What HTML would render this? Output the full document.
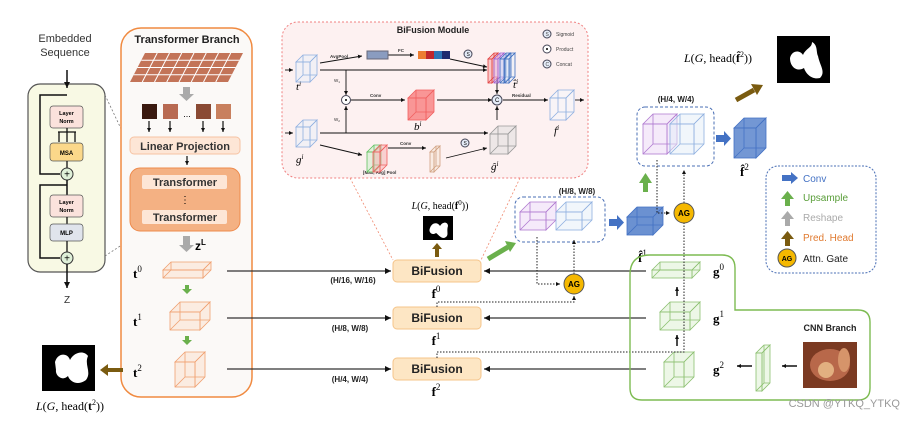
<!DOCTYPE html>
<html><head><meta charset="utf-8"><style>
html,body{margin:0;padding:0;background:#fff}
svg{display:block;font-family:"Liberation Sans",sans-serif}
.b{font-weight:bold}
.s{font-family:"Liberation Serif",serif}
</style></head><body>
<svg id="s" width="916" height="421" viewBox="0 0 916 421" xmlns="http://www.w3.org/2000/svg">
<defs>
<marker id="ah" markerWidth="8" markerHeight="8" refX="6" refY="3" orient="auto" markerUnits="userSpaceOnUse"><path d="M0,0L6,3L0,6z" fill="#111"/></marker>
<marker id="ahs" markerWidth="6" markerHeight="6" refX="4" refY="2" orient="auto" markerUnits="userSpaceOnUse"><path d="M0,0L4,2L0,4z" fill="#111"/></marker>
</defs>

<text x="65" y="42" font-size="11" text-anchor="middle" fill="#333">Embedded</text>
<text x="65" y="56" font-size="11" text-anchor="middle" fill="#333">Sequence</text>
<rect x="28" y="84" width="77" height="188" rx="12" fill="#f8f9e4" stroke="#555" stroke-width="1.2"/>
<path d="M67,70V88" stroke="#111" stroke-width="1.5" marker-end="url(#ah)"/>
<rect x="50" y="106" width="33" height="22" rx="3" fill="#fbe2dc" stroke="#555" stroke-width=".7"/>
<text x="66.5" y="115" font-size="5.5" text-anchor="middle" class="b">Layer</text><text x="66.5" y="123" font-size="5.5" text-anchor="middle" class="b">Norm</text>
<path d="M59,132V142M67,128V142M75,132V142M58,132H76" stroke="#111" stroke-width="1.3"/>
<rect x="50" y="143" width="33" height="18" rx="3" fill="#fbd88a" stroke="#555" stroke-width=".7"/>
<text x="66.5" y="155" font-size="6" text-anchor="middle" class="b">MSA</text>
<path d="M67,161V168" stroke="#111" stroke-width="1.3"/>
<circle cx="67" cy="174" r="6" fill="#dff0d8" stroke="#333"/><text x="67" y="177.5" font-size="10" text-anchor="middle">+</text>
<path d="M67,95H40V174H60" fill="none" stroke="#111" stroke-width="1.5"/>
<path d="M67,180V195M67,185H40V258H60" fill="none" stroke="#111" stroke-width="1.5"/>
<rect x="50" y="195" width="33" height="22" rx="3" fill="#fbe2dc" stroke="#555" stroke-width=".7"/>
<text x="66.5" y="204" font-size="5.5" text-anchor="middle" class="b">Layer</text><text x="66.5" y="212" font-size="5.5" text-anchor="middle" class="b">Norm</text>
<path d="M67,217V224" stroke="#111" stroke-width="1.3"/>
<rect x="50" y="224" width="33" height="17" rx="3" fill="#e0e4ec" stroke="#555" stroke-width=".7"/>
<text x="66.5" y="235" font-size="6" text-anchor="middle" class="b">MLP</text>
<path d="M67,241V252" stroke="#111" stroke-width="1.3"/>
<circle cx="67" cy="258" r="6" fill="#dff0d8" stroke="#333"/><text x="67" y="261.5" font-size="10" text-anchor="middle">+</text>
<path d="M67,264V288" stroke="#111" stroke-width="1.5" marker-end="url(#ah)"/>
<text x="67" y="303" font-size="10" text-anchor="middle" fill="#333">Z</text>
<path d="M105,95L143,175M105,256L143,231" stroke="#777" stroke-width=".8" stroke-dasharray="2,2"/>

<rect x="121" y="28" width="131" height="369" rx="20" fill="#fbf9f7" stroke="#f08a40" stroke-width="1.5"/>
<text x="187" y="43" font-size="11" text-anchor="middle" class="b" fill="#222">Transformer Branch</text>
<polygon points="145,53 243,53 228,82 130,82" fill="#c37458"/>
<g id="grid" stroke="#fff" stroke-width="1"></g>
<rect x="183" y="87" width="7" height="7" fill="#aaa"/><polygon points="179,94 194,94 186.5,101" fill="#aaa"/>
<rect x="142" y="104" width="15" height="15" fill="#3a1a10"/><rect x="163" y="104" width="15" height="15" fill="#b86a52"/>
<text x="187" y="117" font-size="9" text-anchor="middle">...</text>
<rect x="196" y="104" width="15" height="15" fill="#8a4a34"/><rect x="216" y="104" width="15" height="15" fill="#c8805e"/>
<g stroke="#111" stroke-width="1.2" marker-end="url(#ahs)"><path d="M149,121V132"/><path d="M170,121V132"/><path d="M203,121V132"/><path d="M223,121V132"/><path d="M187,156V165"/></g>
<rect x="130" y="137" width="110" height="17" rx="4" fill="#fde6d6" stroke="#f6c3a3"/>
<text x="185" y="150" font-size="11" text-anchor="middle" class="b" fill="#333">Linear Projection</text>
<rect x="130" y="168" width="110" height="63" rx="10" fill="#f4b183" stroke="#ee8a4b"/>
<rect x="142" y="175" width="85" height="14" rx="2" fill="#fde6d6"/>
<text x="185" y="186" font-size="11" text-anchor="middle" class="b" fill="#333">Transformer</text>
<text x="185" y="203" font-size="10" text-anchor="middle">⋮</text>
<rect x="142" y="210" width="85" height="14" rx="2" fill="#fde6d6"/>
<text x="185" y="221" font-size="11" text-anchor="middle" class="b" fill="#333">Transformer</text>
<rect x="183" y="236" width="7" height="9" fill="#aaa"/><polygon points="179,245 194,245 186.5,252" fill="#aaa"/>
<text x="195" y="250" font-size="12" class="b">z<tspan font-size="8" dy="-5">L</tspan></text>
<text x="133" y="278" font-size="13" class="b s">t<tspan font-size="9" dy="-6" font-weight="normal">0</tspan></text>
<text x="133" y="326" font-size="13" class="b s">t<tspan font-size="9" dy="-6" font-weight="normal">1</tspan></text>
<text x="133" y="377" font-size="13" class="b s">t<tspan font-size="9" dy="-6" font-weight="normal">2</tspan></text>
<g fill="#6ab04c"><rect x="185" y="285" width="4" height="4"/><polygon points="182,289 192,289 187,294"/><rect x="185" y="336" width="4" height="4"/><polygon points="182,340 192,340 187,345"/></g>

<rect x="42" y="345" width="53" height="46" fill="#000"/>
<path d="M55,362C58,352 68,353 70,360C74,352 84,350 88,356C84,365 92,372 86,380C78,386 70,382 68,376C62,382 55,375 56,370Z" fill="#fff"/>
<text x="70" y="410" font-size="12" text-anchor="middle" class="s"><tspan font-style="italic">L</tspan>(<tspan font-style="italic">G</tspan>, head(<tspan font-weight="bold">t</tspan><tspan font-size="8" dy="-5">2</tspan><tspan dy="5">))</tspan></text>
<rect x="108" y="368" width="15" height="4" fill="#7a5b10"/><polygon points="108,364 108,376 100,370" fill="#7a5b10"/>

<g stroke="#333" stroke-width="1.3" marker-end="url(#ah)">
<path d="M227,271H391"/><path d="M227,318H391"/><path d="M227,369H391"/>
<path d="M646,271H484"/><path d="M646,318H484"/><path d="M646,369H484"/>
</g>
<g font-size="8" class="b" text-anchor="middle" fill="#222">
<text x="353" y="283">(H/16, W/16)</text><text x="350" y="331">(H/8, W/8)</text><text x="350" y="382">(H/4, W/4)</text>
<text x="577" y="194">(H/8, W/8)</text><text x="676" y="102">(H/4, W/4)</text>
</g>

<g fill="#fde6c4" stroke="#f5c48a">
<rect x="393" y="260" width="88" height="22" rx="4"/><rect x="393" y="307" width="88" height="22" rx="4"/><rect x="393" y="358" width="88" height="22" rx="4"/>
</g>
<g font-size="12" class="b" text-anchor="middle" fill="#222">
<text x="437" y="275">BiFusion</text><text x="437" y="322">BiFusion</text><text x="437" y="373">BiFusion</text>
</g>
<g font-size="13" class="b s" text-anchor="middle">
<text x="436" y="298">f<tspan font-size="9" dy="-6" font-weight="normal">0</tspan></text>
<text x="436" y="345">f<tspan font-size="9" dy="-6" font-weight="normal">1</tspan></text>
<text x="436" y="396">f<tspan font-size="9" dy="-6" font-weight="normal">2</tspan></text>
</g>
<rect x="423" y="216" width="30" height="24" fill="#000"/>
<path d="M430,228C432,222 438,222 440,226C443,221 448,222 448,226C446,232 450,236 444,238C440,238 438,234 436,233C432,236 428,232 430,228Z" fill="#fff"/>
<text x="440" y="209" font-size="10" text-anchor="middle" class="s"><tspan font-style="italic">L</tspan>(<tspan font-style="italic">G</tspan>, head(<tspan font-weight="bold">f</tspan><tspan font-size="7" dy="-4">0</tspan><tspan dy="4">))</tspan></text>
<rect x="435" y="248" width="4" height="9" fill="#7a5b10"/><polygon points="432,249 442,249 437,243" fill="#7a5b10"/>
<path d="M350,178L393,260M520,178L481,260" stroke="#f08a70" stroke-width=".8" stroke-dasharray="2,2"/>
<path d="M488,259L508,247" stroke="#6ab04c" stroke-width="5"/><polygon points="505,241 516,243 510,252" fill="#6ab04c"/>

<rect x="282" y="22" width="306" height="156" rx="16" fill="#fdf1f1" stroke="#f08080" stroke-width="1" stroke-dasharray="2,2"/>
<text x="433" y="33" font-size="9" text-anchor="middle" class="b" fill="#222">BiFusion Module</text>
<g font-size="5" fill="#444"><circle cx="547" cy="34" r="4" fill="#e4ebf7" stroke="#445"/><text x="545.5" y="36">S</text><text x="556" y="36">Sigmoid</text>
<circle cx="547" cy="49" r="4" fill="#fff" stroke="#445"/><circle cx="547" cy="49" r="1" fill="#000"/><text x="556" y="51">Product</text>
<circle cx="547" cy="64" r="4" fill="#e4ebf7" stroke="#445"/><text x="545.5" y="66">C</text><text x="556" y="66">Concat</text></g>
<g stroke="#111" stroke-width=".9" fill="none" marker-end="url(#ahs)">
<path d="M285,70H293"/><path d="M285,133H293"/>
<path d="M320,63L362,56"/><path d="M388,55H414"/><path d="M450,59L487,67"/>
<path d="M320,70H487"/><path d="M346,70V95"/><path d="M346,133V106"/>
<path d="M351,100H405"/><path d="M437,100H492"/><path d="M503,100H548"/><path d="M575,100H584"/>
<path d="M320,133H488"/><path d="M320,145L362,155"/><path d="M388,148H426"/><path d="M446,158L487,148"/>
<path d="M497,78V94"/><path d="M497,120V106"/>
</g>
<g font-size="4.5" fill="#333" class="b"><text x="330" y="58">AvgPool</text><text x="398" y="52">FC</text><text x="370" y="97">Conv</text><text x="400" y="145">Conv</text><text x="512" y="97">Residual</text><text x="363" y="174">[Max, Avg] Pool</text></g>
<rect x="367" y="51" width="21" height="8" fill="#8a9cc0" stroke="#667"/>
<rect x="418" y="51" width="8" height="8" fill="#ed7d31"/><rect x="426" y="51" width="8" height="8" fill="#c0272d"/><rect x="434" y="51" width="8" height="8" fill="#2e75b6"/><rect x="442" y="51" width="8" height="8" fill="#1f2a6e"/>
<g font-size="5"><circle cx="468" cy="54" r="4" fill="#e4ebf7" stroke="#445"/><text x="466.5" y="56">S</text>
<circle cx="465" cy="143" r="4" fill="#e4ebf7" stroke="#445"/><text x="463.5" y="145">S</text>
<circle cx="346" cy="100" r="4.5" fill="#fff" stroke="#445"/><circle cx="346" cy="100" r="1" fill="#000"/>
<circle cx="497" cy="100" r="5" fill="#e4ebf7" stroke="#445"/><text x="495" y="102" font-size="6">C</text></g>
<g font-size="4.5" fill="#333"><text x="334" y="82">W<tspan font-size="3" dy="1">1</tspan></text><text x="334" y="121">W<tspan font-size="3" dy="1">2</tspan></text></g>
<g font-size="11" class="s" font-style="italic"><text x="296" y="90">t<tspan font-size="7" dy="-4">i</tspan></text><text x="296" y="163">g<tspan font-size="7" dy="-4">i</tspan></text><text x="414" y="130">b<tspan font-size="7" dy="-4">i</tspan></text><text x="554" y="134">f<tspan font-size="7" dy="-4">i</tspan></text><text x="513" y="88">t̂<tspan font-size="7" dy="-4">i</tspan></text><text x="491" y="170">ĝ<tspan font-size="7" dy="-4">i</tspan></text></g>

<rect x="515" y="197" width="90" height="45" rx="8" fill="none" stroke="#4a6fb5" stroke-dasharray="3,2"/>
<rect x="637" y="107" width="77" height="59" rx="8" fill="none" stroke="#4a6fb5" stroke-dasharray="3,2"/>
<rect x="609" y="219" width="8" height="7" fill="#4472c4"/><polygon points="617,215 617,230 624,222.5" fill="#4472c4"/>
<rect x="716" y="135" width="8" height="7" fill="#4472c4"/><polygon points="724,131 724,146 731,138.5" fill="#4472c4"/>
<rect x="643" y="182" width="5" height="10" fill="#6ab04c"/><polygon points="639,183 652,183 645.5,173" fill="#6ab04c"/>
<path d="M736,100L754,90" stroke="#7a5b10" stroke-width="5"/><polygon points="751,84 763,85 757,95" fill="#7a5b10"/>
<text x="638" y="262" font-size="13" class="b s">f̂<tspan font-size="9" dy="-6" font-weight="normal">1</tspan></text>
<text x="740" y="176" font-size="13" class="b s">f̂<tspan font-size="9" dy="-6" font-weight="normal">2</tspan></text>
<text x="718" y="62" font-size="12" text-anchor="middle" class="s"><tspan font-style="italic">L</tspan>(<tspan font-style="italic">G</tspan>, head(<tspan font-weight="bold">f̂</tspan><tspan font-size="8" dy="-5">2</tspan><tspan dy="5">))</tspan></text>
<rect x="777" y="36" width="53" height="47" fill="#000"/>
<path d="M790,58C792,50 800,50 803,55C806,48 812,48 812,42C818,45 816,52 818,56C820,66 826,72 820,78C812,80 806,74 804,68C798,72 790,68 790,58Z" fill="#fff"/>

<g id="cubes"></g>

<g stroke="#222" stroke-width="1" stroke-dasharray="1.5,1.5" fill="none">
<path d="M537,237V284H560" marker-end="url(#ahs)"/>
<path d="M574,274V240" marker-end="url(#ahs)"/>
<path d="M437,307V302H574V296" marker-end="url(#ahs)"/>
<path d="M437,358V352H684V170" marker-end="url(#ahs)"/>
<path d="M657,160V213H670" marker-end="url(#ahs)"/>
</g>
<g font-size="8" class="b" text-anchor="middle">
<circle cx="574" cy="284" r="10" fill="#f5b800" stroke="#555"/><text x="574" y="287">AG</text>
<circle cx="684" cy="213" r="10" fill="#f5b800" stroke="#555"/><text x="684" y="216">AG</text>
</g>

<rect x="766" y="166" width="110" height="107" rx="12" fill="none" stroke="#4a6fb5" stroke-dasharray="2,1.5"/>
<rect x="782" y="175" width="9" height="6" fill="#4472c4"/><polygon points="791,172 791,184 798,178" fill="#4472c4"/>
<text x="803" y="182" font-size="10" fill="#4472c4">Conv</text>
<rect x="785" y="198" width="5" height="8" fill="#6ab04c"/><polygon points="781,199 794,199 787.5,191" fill="#6ab04c"/>
<text x="803" y="201" font-size="10" fill="#5a9e3a">Upsample</text>
<rect x="785" y="218" width="5" height="8" fill="#aaa"/><polygon points="781,219 794,219 787.5,211" fill="#aaa"/>
<text x="803" y="221" font-size="10" fill="#aaa">Reshape</text>
<rect x="785" y="238" width="5" height="8" fill="#7a5b10"/><polygon points="781,239 794,239 787.5,231" fill="#7a5b10"/>
<text x="803" y="241" font-size="10" fill="#e07a30">Pred. Head</text>
<circle cx="787" cy="258" r="9" fill="#f5b800" stroke="#555"/><text x="787" y="261" font-size="7" class="b" text-anchor="middle">AG</text>
<text x="803" y="262" font-size="10" fill="#222">Attn. Gate</text>

<path d="M650,255H722Q735,255 735,268V310H858Q870,310 870,322V388Q870,400 858,400H642Q630,400 630,388V275Q630,255 650,255Z" fill="none" stroke="#7dbb52" stroke-width="1.4"/>
<text x="830" y="331" font-size="9" class="b" text-anchor="middle" fill="#222">CNN Branch</text>
<rect x="803" y="342" width="54" height="46" fill="#7b3a22"/>
<ellipse cx="830" cy="365" rx="20" ry="16" fill="#b8684a"/><ellipse cx="826" cy="370" rx="8" ry="8" fill="#e2b080"/><ellipse cx="844" cy="360" rx="6" ry="12" fill="#d6946a"/>
<g font-size="13" class="b s">
<text x="713" y="276">g<tspan font-size="9" dy="-6" font-weight="normal">0</tspan></text>
<text x="713" y="323">g<tspan font-size="9" dy="-6" font-weight="normal">1</tspan></text>
<text x="713" y="374">g<tspan font-size="9" dy="-6" font-weight="normal">2</tspan></text>
</g>
<g stroke="#111" stroke-width="1.5" marker-end="url(#ahs)"><path d="M677,296V287"/><path d="M677,346V335"/><path d="M752,366H737"/><path d="M797,366H782"/></g>
<text x="900" y="407" font-size="11" text-anchor="end" fill="#999">CSDN @YTKQ_YTKQ</text>
</svg>
<script>
var NS="http://www.w3.org/2000/svg";
function el(p,t,a){var e=document.createElementNS(NS,t);for(var k in a)e.setAttribute(k,a[k]);p.appendChild(e);return e;}
var svg=document.getElementById('cubes');
function cube(x,y,w,h,d,st,fl,op){var g=el(svg,'g',{stroke:st,fill:fl,'stroke-width':0.8,'fill-opacity':op||0.5});
el(g,'polygon',{points:[x,y+d,x+d,y,x+d+w,y,x+w,y+d].join(' ')});
el(g,'polygon',{points:[x+w,y+d,x+w+d,y,x+w+d,y+h,x+w,y+h+d].join(' ')});
el(g,'rect',{x:x,y:y+d,width:w,height:h});
el(g,'path',{d:'M'+(x+d)+','+y+'V'+(y+h)+'H'+(x+w+d)+'M'+(x+d)+','+(y+h)+'L'+x+','+(y+h+d),fill:'none'});}
var gr=document.getElementById('grid');
for(var i=1;i<4;i++){var yy=53+i*29/4,sh=(i*29/4)*15/29;el(gr,'line',{x1:145-sh,y1:yy,x2:243-sh,y2:yy});}
for(var j=1;j<8;j++){var xx=145+j*98/8;el(gr,'line',{x1:xx,y1:53,x2:xx-15,y2:82});}
cube(163,262,40,8,8,'#f0a070','#fbe0cc');
cube(170,302,30,18,10,'#f0a070','#fbe0cc');
cube(175,352,20,25,10,'#f0a070','#fbe0cc');
cube(652,262,40,8,8,'#8cc070','#dcefd0');
cube(660,302,30,18,10,'#8cc070','#dcefd0');
cube(664,352,20,25,10,'#8cc070','#dcefd0');
cube(756,345,6,38,8,'#8cc070','#dcefd0');
cube(520,202,26,18,10,'#b07ad0','#ecd6f6');
cube(556,202,26,18,10,'#8fb0e0','#e4eef8');
cube(627,207,26,18,10,'#4472c4','#5b85cc',0.9);
cube(643,114,24,30,10,'#b07ad0','#ecd6f6');
cube(670,114,24,30,10,'#8fb0e0','#e4eef8');
cube(734,118,22,30,10,'#4472c4','#5b85cc',0.85);
cube(296,55,14,20,7,'#8fb0e0','#e8f0fa');
cube(296,120,14,20,7,'#8fb0e0','#e8f0fa');
cube(408,90,18,22,8,'#f06060','#f88080',0.8);
cube(550,90,16,22,8,'#8fb0e0','#f4f8fd');
cube(490,126,18,20,8,'#999','#ddd');
cube(488,53,4,24,6,'#e04040','#f6a0a0');cube(494,53,4,24,6,'#a060d0','#e6c8f4');cube(500,53,4,24,6,'#4070c0','#c8d8f4');cube(505,53,4,24,6,'#4070c0','#e8f0fa');
cube(367,145,7,20,7,'#60c060','#c8eec8');cube(373,145,7,20,7,'#f06060','#f6b0b0');
cube(430,146,4,20,6,'#d0a080','#f6e6d6');
</script>
</body></html>
